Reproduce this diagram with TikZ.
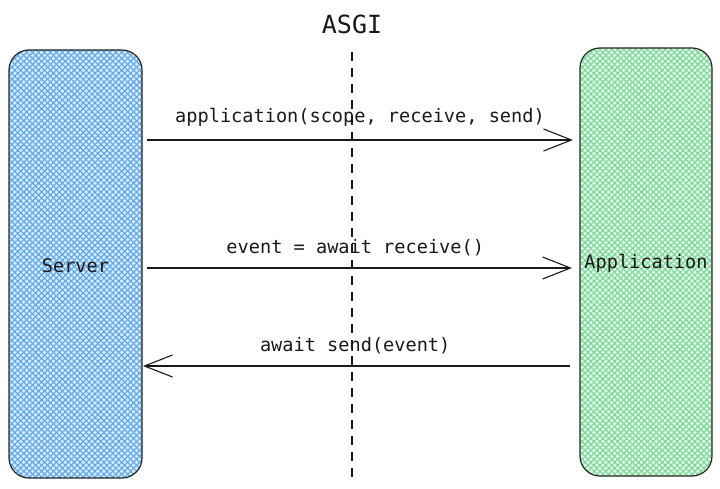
\documentclass[tikz,border=0pt]{standalone}
\usepackage{fontspec}
\setmonofont{DejaVu Sans Mono}
\usetikzlibrary{arrows.meta,patterns.meta}
\definecolor{srvbg}{HTML}{D4EAFB}
\definecolor{srvln}{HTML}{5EA6E8}
\definecolor{appbg}{HTML}{DDF7E4}
\definecolor{appln}{HTML}{7ED69A}
\tikzset{
  lane/.style={rounded corners=20pt, line width=1.2pt, draw=black!85},
  hatchA/.style={pattern={Lines[angle=45,distance=4.2pt,line width=1.1pt]}},
  hatchB/.style={pattern={Lines[angle=-45,distance=4.2pt,line width=1.1pt]}},
  lbl/.style={font=\ttfamily\fontsize{18.6}{22}\selectfont, text=black!90},
  msg/.style={draw=black!90, line width=1.1pt, -{Straight Barb[length=28pt,width=22pt,line width=1.1pt]}},
  msgbold/.style={msg, line width=1.8pt},
}
\begin{document}
\begin{tikzpicture}[x=1pt,y=-1pt]
\useasboundingbox (0,0) rectangle (720,489);
% server lane
\fill[srvbg, rounded corners=20pt] (9,50) rectangle (142,478);
\fill[hatchA, pattern color=srvln, rounded corners=20pt] (9,50) rectangle (142,478);
\fill[hatchB, pattern color=srvln, rounded corners=20pt] (9,50) rectangle (142,478);
\node[lane, minimum width=133pt, minimum height=428pt, inner sep=0pt] (srv) at (75.5,264) {};
\node[lbl] (srvt) at (75.5,266) {Server};
% application lane
\fill[appbg, rounded corners=20pt] (580,48) rectangle (712,476);
\fill[hatchA, pattern color=appln, rounded corners=20pt] (580,48) rectangle (712,476);
\fill[hatchB, pattern color=appln, rounded corners=20pt] (580,48) rectangle (712,476);
\node[lane, minimum width=132pt, minimum height=428pt, inner sep=0pt] (app) at (646,262) {};
\node[lbl] (appt) at (646,263) {Application};
% ASGI divider
\node[font=\ttfamily\fontsize{25}{28}\selectfont, text=black!90] (asgi) at (352,24) {ASGI};
\coordinate (dtop) at (352,52);
\coordinate (dbot) at (352,480);
\draw[black!90, line width=1.5pt, dash pattern=on 9pt off 7pt] (dtop) -- (dbot);
% messages
\coordinate (a1) at (147,140); \coordinate (b1) at (573,140);
\draw[msgbold] (a1) -- node[lbl, above=9pt] {application(scope, receive, send)} (b1);
\coordinate (a2) at (147,268); \coordinate (b2) at (572,268);
\draw[msg] (a2) -- node[lbl, above=8pt, pos=0.49] {event = await receive()} (b2);
\coordinate (a3) at (570,366); \coordinate (b3) at (143,366);
\draw[msg] (a3) -- node[lbl, above=8pt, pos=0.503] {await send(event)} (b3);
\end{tikzpicture}
\end{document}
